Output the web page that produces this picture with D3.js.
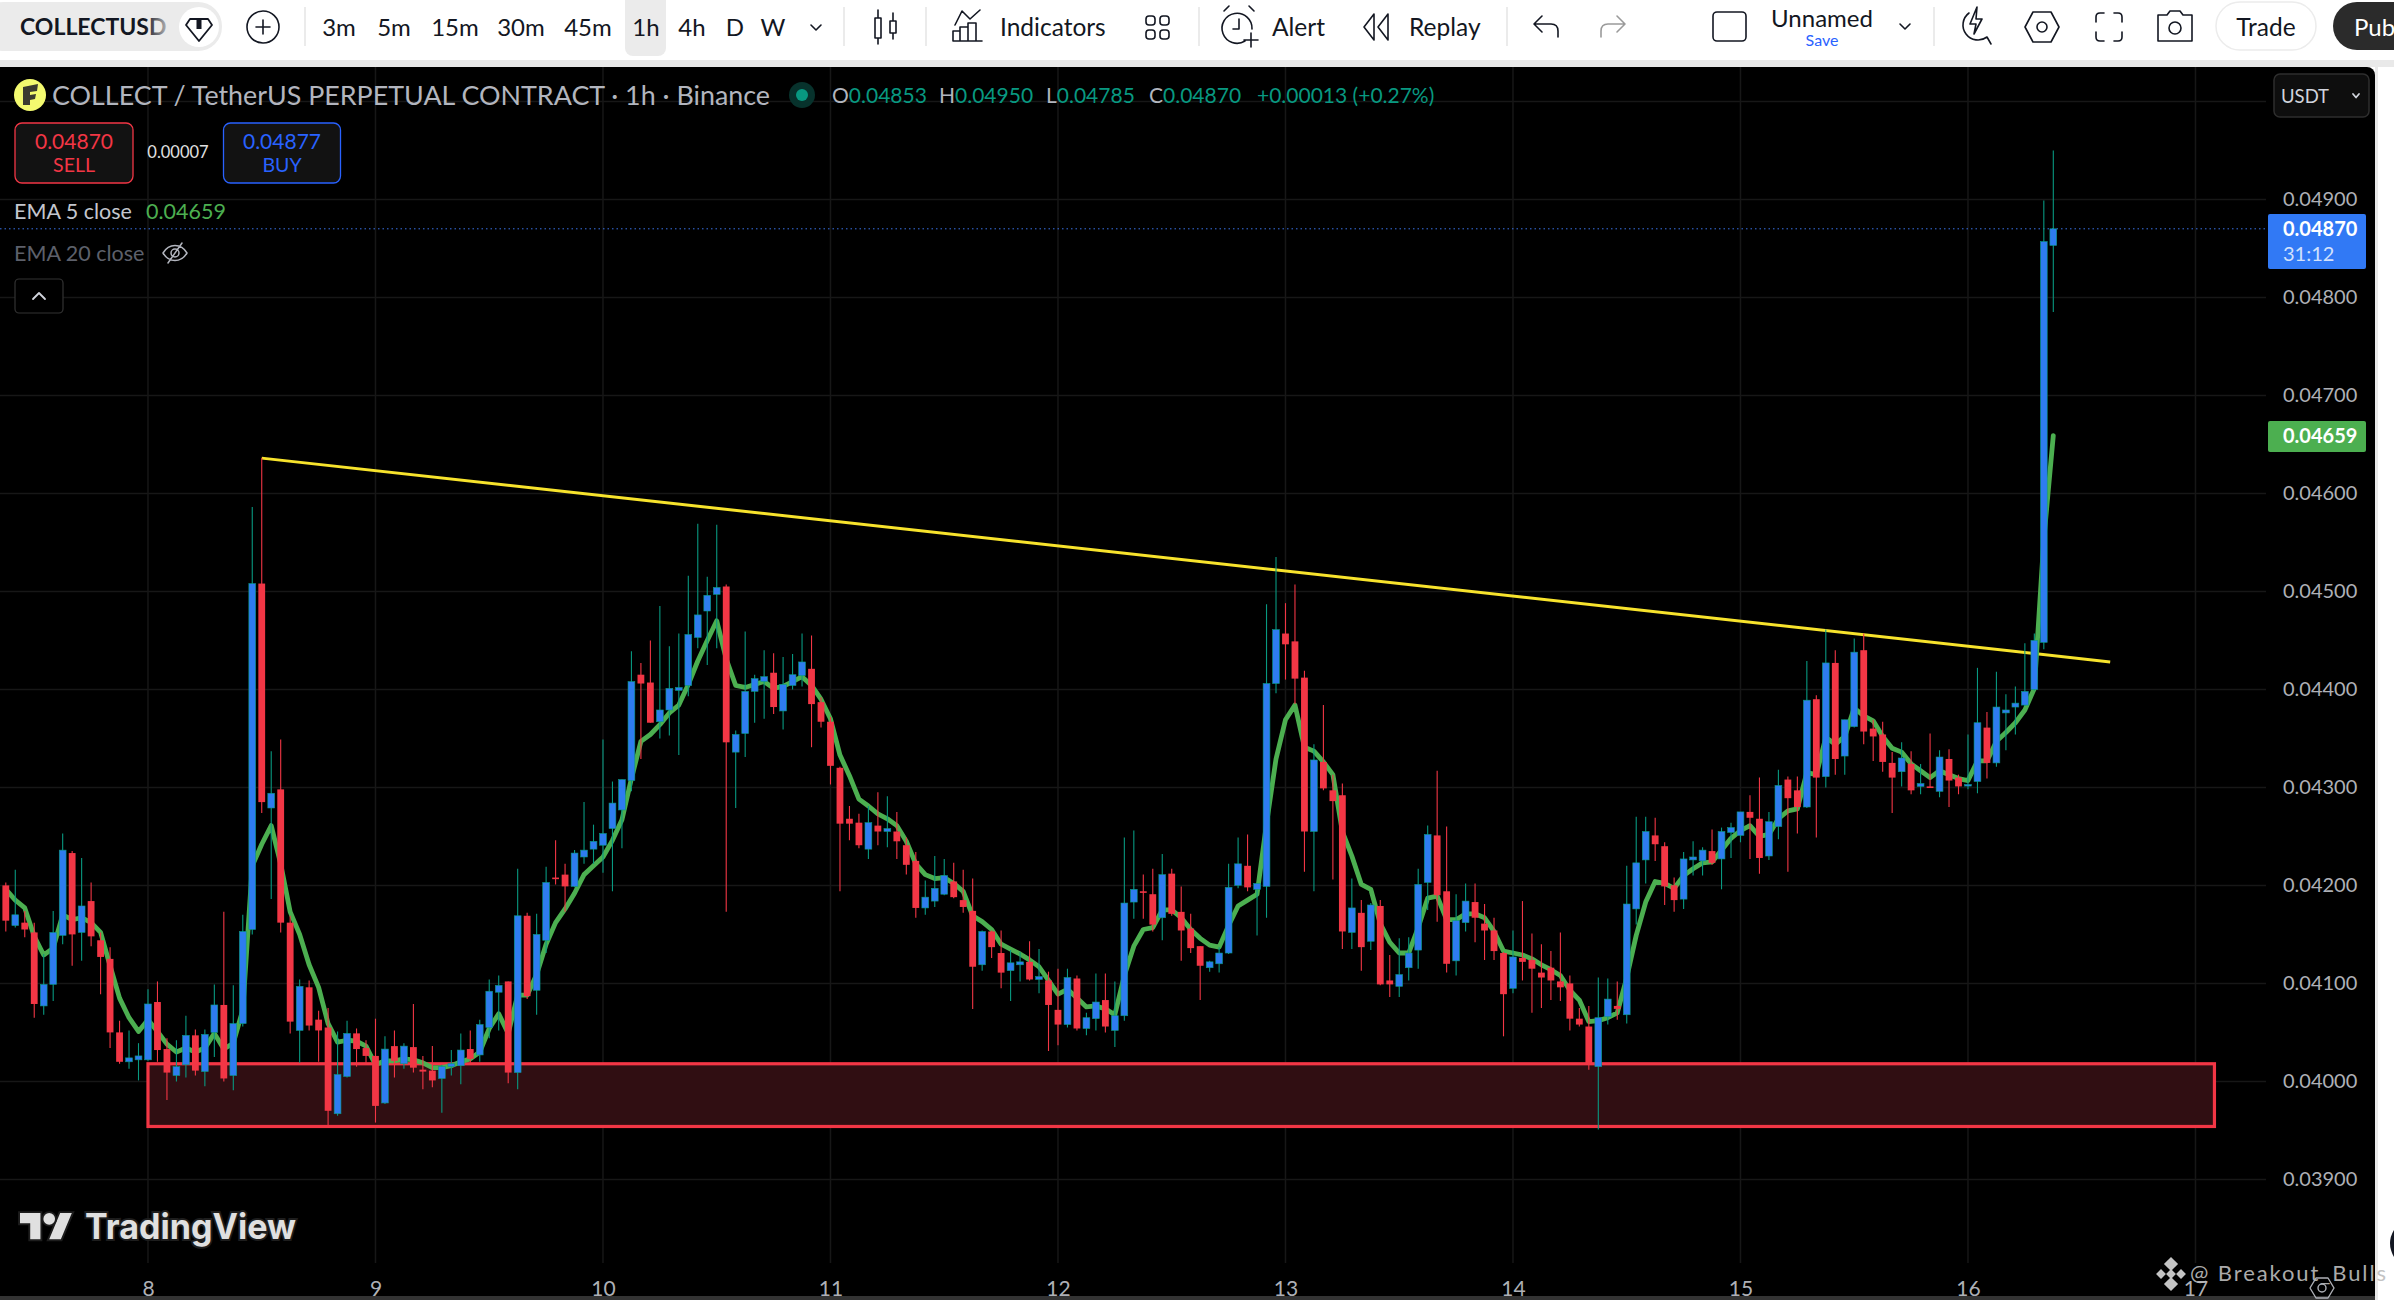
<!DOCTYPE html>
<html>
<head>
<meta charset="utf-8">
<title>COLLECTUSD</title>
<script src="https://cdn.jsdelivr.net/npm/d3@7"></script>
<style>
    html, body { margin: 0; padding: 0; background: #fff; overflow: hidden; }
    text { font-family: Lato, "Open Sans", sans-serif; }
</style>
</head>
<body>
<div id="chart"></div>
<script>
// prices are in units of 0.00001, one value per hourly bar
const opens = [
    4200,4159,4162,4152,4077,4099,4149,4233,4152,4184,4144,4125,4050,4020,4022,
    4022,4081,4033,4006,4017,4047,4010,4050,4078,4006,4059,4155,4508,4279,4298,4162,4052,4096,4063,4055,3967,4005,4049,4034,
    4026,3978,4036,4018,4035,4012,4011,4003,4015,4016,4033,4027,4055,4091,4102,4009,4169,4093,4144,4208,4211,4199,4229,4237,
    4241,4258,4277,4307,4415,4407,4367,4379,4399,4404,4453,4480,4497,4505,4336,4355,4398,4408,4417,4378,4404,4414,4421,4387,
    4367,4320,4268,4264,4237,4261,4255,4255,4241,4225,4177,4184,4191,4204,4185,4174,4119,4153,4131,4113,4119,4122,4104,4103,
    4073,4058,4105,4054,4064,4083,4052,4067,4183,4194,4191,4167,4212,4173,4156,4138,4116,4120,4131,4200,4220,4196,4199,4406,
    4457,4449,4412,4255,4326,4297,4292,4152,4172,4143,4179,4103,4097,4116,4134,4203,4251,4194,4123,4162,4183,4161,4154,4131,
    4095,4126,4124,4111,4116,4102,4100,4064,4056,4015,4066,4077,4068,4176,4226,4251,4240,4200,4186,4226,4225,4235,4227,4254,
    4251,4275,4268,4230,4260,4308,4297,4280,4390,4311,4427,4332,4362,4440,4360,4354,4325,4316,4324,4301,4301,4296,4329,4310,
    4302,4306,4361,4325,4376,4382,4384,4400,4448,4853
];
const highs = [
    4203,4216,4174,4162,4130,4174,4253,4235,4228,4203,4152,4137,4062,4052,4039,
    4094,4102,4044,4042,4067,4053,4053,4099,4173,4098,4170,4586,4636,4337,4349,4169,4104,4103,4072,4075,4051,4062,4054,4042,
    4064,4046,4052,4039,4079,4026,4036,4017,4032,4049,4052,4063,4104,4108,4102,4217,4172,4171,4219,4246,4222,4236,4285,4262,
    4349,4306,4308,4439,4427,4450,4485,4444,4457,4516,4569,4515,4568,4507,4358,4459,4415,4440,4437,4433,4436,4457,4455,4392,
    4372,4321,4281,4273,4281,4295,4291,4275,4249,4234,4205,4230,4227,4223,4216,4207,4154,4154,4154,4134,4132,4143,4135,4112,
    4115,4115,4108,4070,4110,4110,4102,4249,4256,4211,4217,4232,4217,4199,4171,4138,4123,4137,4222,4249,4252,4202,4487,4535,
    4488,4507,4419,4344,4384,4313,4304,4207,4185,4182,4185,4129,4146,4147,4217,4261,4317,4260,4191,4202,4202,4181,4167,4132,
    4154,4184,4151,4140,4133,4152,4108,4075,4077,4106,4105,4102,4220,4270,4270,4269,4244,4208,4234,4245,4239,4257,4259,4264,
    4275,4292,4310,4275,4318,4311,4311,4429,4394,4461,4440,4369,4452,4457,4369,4367,4336,4346,4337,4324,4355,4338,4339,4313,
    4354,4422,4377,4418,4395,4403,4447,4457,4899,4950
];
const lows = [
    4153,4157,4147,4065,4068,4082,4140,4118,4123,4138,4089,4034,4018,4013,4001,
    4021,4020,3981,4000,4004,4006,3995,4025,4000,3991,4056,4150,4274,4186,4152,4049,4019,4052,4020,3955,3965,4004,4015,4019,
    3958,3977,4004,4013,4009,3992,3994,3968,4006,3997,4019,4020,4044,4052,3998,3992,4084,4068,4131,4201,4173,4198,4222,4222,
    4213,4194,4238,4296,4329,4366,4350,4353,4333,4393,4442,4425,4442,4173,4279,4331,4366,4370,4375,4359,4400,4403,4341,4361,
    4303,4194,4246,4238,4227,4241,4239,4227,4211,4167,4170,4178,4190,4187,4172,4074,4113,4126,4095,4082,4102,4103,4090,4031,
    4037,4055,4052,4047,4052,4050,4035,4062,4166,4166,4153,4144,4169,4123,4131,4083,4112,4111,4130,4197,4194,4149,4167,4396,
    4410,4385,4214,4194,4297,4206,4135,4135,4113,4134,4098,4086,4086,4103,4115,4175,4163,4111,4108,4153,4142,4124,4124,4046,
    4090,4103,4070,4075,4083,4082,4052,4056,4012,3951,4058,4063,4059,4160,4202,4225,4180,4173,4176,4210,4210,4221,4196,4228,
    4244,4227,4212,4226,4247,4214,4253,4279,4249,4300,4313,4313,4361,4344,4327,4316,4274,4301,4293,4293,4300,4290,4280,4293,
    4298,4294,4309,4321,4338,4354,4383,4399,4441,4785
];
const closes = [
    4164,4170,4155,4079,4099,4152,4236,4150,4179,4148,4127,4050,4020,4024,4026,
    4079,4032,4009,4015,4047,4011,4048,4078,4003,4059,4153,4508,4285,4294,4162,4061,4097,4057,4052,3970,4007,4049,4033,4026,
    3975,4033,4021,4036,4014,4010,4001,4015,4018,4032,4023,4058,4092,4098,4009,4169,4087,4150,4203,4207,4199,4233,4236,4245,
    4253,4284,4308,4408,4406,4366,4379,4401,4402,4456,4476,4496,4504,4346,4354,4398,4411,4413,4382,4405,4415,4428,4385,4367,
    4322,4263,4263,4241,4264,4255,4258,4245,4221,4177,4188,4197,4210,4188,4178,4117,4153,4137,4111,4121,4122,4104,4107,4078,
    4058,4106,4054,4065,4081,4056,4067,4182,4196,4193,4160,4211,4171,4154,4136,4118,4122,4131,4198,4222,4198,4202,4406,4461,
    4446,4411,4255,4328,4299,4286,4153,4177,4137,4180,4099,4099,4109,4131,4201,4252,4190,4120,4164,4184,4167,4154,4133,4089,
    4127,4122,4115,4106,4103,4096,4064,4058,4017,4065,4084,4074,4181,4223,4255,4242,4199,4185,4227,4229,4236,4223,4255,4259,
    4275,4269,4228,4265,4302,4289,4280,4389,4310,4427,4329,4369,4438,4357,4352,4326,4310,4330,4297,4304,4300,4331,4307,4301,
    4303,4366,4325,4382,4379,4386,4398,4450,4857,4870
];
const ema5 = [
    4196,4185,4177,4148,4129,4136,4170,4165,4167,4162,4152,4118,4085,4065,4051,
    4063,4051,4038,4030,4034,4030,4034,4049,4033,4039,4073,4220,4242,4261,4222,4173,4150,4119,4096,4059,4040,4042,4041,4036,
    4017,4021,4021,4023,4022,4019,4014,4014,4016,4020,4023,4030,4054,4069,4049,4088,4088,4109,4140,4162,4176,4192,4211,4220,
    4229,4246,4267,4309,4347,4354,4364,4376,4384,4405,4429,4450,4470,4431,4404,4402,4405,4408,4401,4403,4408,4413,4404,4390,
    4370,4333,4312,4288,4281,4273,4268,4261,4245,4222,4211,4207,4208,4202,4194,4169,4163,4155,4140,4135,4130,4124,4117,4103,
    4089,4094,4085,4076,4077,4074,4068,4108,4138,4155,4157,4175,4175,4167,4155,4146,4139,4137,4159,4179,4185,4191,4263,4329,
    4369,4384,4341,4337,4326,4313,4255,4230,4201,4196,4161,4142,4131,4131,4157,4187,4189,4165,4165,4171,4171,4167,4153,4133,
    4131,4129,4125,4119,4114,4108,4093,4083,4061,4062,4065,4070,4106,4149,4183,4204,4202,4197,4210,4217,4223,4224,4236,4248,
    4256,4261,4250,4252,4268,4276,4278,4315,4313,4351,4344,4352,4381,4373,4368,4352,4340,4336,4324,4317,4310,4317,4313,4309,
    4307,4327,4327,4347,4356,4366,4379,4401,4553,4659
];

const priceTicks = [4900, 4800, 4700, 4600, 4500, 4400, 4300, 4200, 4100, 4000, 3900];
const gridPrices = [5000].concat(priceTicks);
const dayLabels = [8, 9, 10, 11, 12, 13, 14, 15, 16, 17];
const dayBars = [15, 39, 63, 87, 111, 135, 159, 183, 207, 231];   // bar index where each day starts

// drawings on the chart, [bar index, price]
const trendLine = [[27, 4636], [222, 4428]];
const supportZone = { from: 15, to: 233, top: 4018, bottom: 3954 };
const lastPrice = 4870;
const lastEma = 4659;

const timeframes = [['3m', 339], ['5m', 394], ['15m', 455], ['30m', 521], ['45m', 588], ['1h', 646], ['4h', 692], ['D', 735], ['W', 773]];
const ohlcParts = [['O', '0.04853', 832], ['H', '0.04950', 939], ['L', '0.04785', 1046], ['C', '0.04870', 1149]];

////////////////////////////////////////////////////////
////////////////////////////////////////////////////////
const width = 2394;
const height = 1300;
const upColor = '#2e7cf0';
const upWick = '#089981';
const downColor = '#f23645';
const axisText = '#aeb0b6';

const svg = d3.select('#chart').append('svg')
    .attr('width', width)
    .attr('height', height)
    .style('display', 'block');

// hourly bars are 9.479px apart, price scale is 98px per 0.001
const x = d3.scaleLinear().domain([0, 216]).range([5.8, 2053.3]);
const y = d3.scaleLinear().domain([3900, 4900]).range([1179.4, 199.4]);

function label(parent, px, py, str, size, fill, anchor, weight) {
    return parent.append('text')
        .attr('x', px)
        .attr('y', py)
        .attr('dy', '0.36em')
        .attr('font-size', size)
        .attr('fill', fill)
        .attr('text-anchor', anchor || 'start')
        .attr('font-weight', weight || 400)
        .text(str);
}

function icon(px, py, d, stroke, sw) {
    return svg.append('path')
        .attr('transform', 'translate(' + px + ',' + py + ')')
        .attr('d', d)
        .attr('fill', 'none')
        .attr('stroke', stroke || '#131722')
        .attr('stroke-width', sw || 1.6)
        .attr('stroke-linecap', 'round')
        .attr('stroke-linejoin', 'round');
}

////////////////////////////////////////////////////////
// page and panel
////////////////////////////////////////////////////////
svg.append('rect').attr('width', width).attr('height', height).attr('fill', '#fff');
svg.append('rect').attr('y', 60).attr('width', width).attr('height', 7).attr('fill', '#e9e9e9');
svg.append('rect').attr('x', 2375).attr('y', 60).attr('width', 3).attr('height', 1240).attr('fill', '#e9e9e9');
svg.append('rect').attr('x', -8).attr('y', 67).attr('width', 2383).attr('height', 1240).attr('rx', 8).attr('fill', '#000');
svg.append('rect').attr('y', 1296).attr('width', 2375).attr('height', 4).attr('fill', '#333');
svg.append('path').attr('d', 'M2394 1230 Q2386 1243 2394 1257 Z').attr('fill', '#131722');

////////////////////////////////////////////////////////
// grid
////////////////////////////////////////////////////////
const plot = svg.append('g');

plot.append('g').selectAll('line')
    .data(gridPrices)
    .join('line')
    .attr('x1', 0)
    .attr('x2', 2266)
    .attr('y1', d => y(d))
    .attr('y2', d => y(d))
    .attr('stroke', '#171717')
    .attr('stroke-width', 1.5);

plot.append('g').selectAll('line')
    .data(dayBars)
    .join('line')
    .attr('x1', d => x(d))
    .attr('x2', d => x(d))
    .attr('y1', 67)
    .attr('y2', 1263)
    .attr('stroke', '#171717')
    .attr('stroke-width', 1.5);

////////////////////////////////////////////////////////
// support zone, trend line, ema
////////////////////////////////////////////////////////
plot.append('rect')
    .attr('x', x(supportZone.from))
    .attr('y', y(supportZone.top))
    .attr('width', x(supportZone.to) - x(supportZone.from))
    .attr('height', y(supportZone.bottom) - y(supportZone.top))
    .attr('fill', '#300e12')
    .attr('stroke', downColor)
    .attr('stroke-width', 3.2);

plot.append('path')
    .datum(trendLine)
    .attr('d', d3.line().x(d => x(d[0])).y(d => y(d[1])))
    .attr('fill', 'none')
    .attr('stroke', '#f7e32c')
    .attr('stroke-width', 3);

plot.append('path')
    .datum(ema5)
    .attr('d', d3.line().x((d, i) => x(i)).y(d => y(d)))
    .attr('fill', 'none')
    .attr('stroke', '#4caf50')
    .attr('stroke-width', 4.8)
    .attr('stroke-linejoin', 'round')
    .attr('stroke-linecap', 'round');

// last price dotted line
plot.append('line')
    .attr('x1', 0)
    .attr('x2', 2266)
    .attr('y1', y(lastPrice))
    .attr('y2', y(lastPrice))
    .attr('stroke', '#3a72e8')
    .attr('stroke-width', 1)
    .attr('stroke-dasharray', '1.5 3');

////////////////////////////////////////////////////////
// candles
////////////////////////////////////////////////////////
const bars = plot.append('g').selectAll('g')
    .data(d3.range(opens.length))
    .join('g');

bars.append('line')
    .attr('x1', i => x(i))
    .attr('x2', i => x(i))
    .attr('y1', i => y(highs[i]))
    .attr('y2', i => y(lows[i]))
    .attr('stroke', i => closes[i] >= opens[i] ? upWick : downColor)
    .attr('stroke-width', 1.1);

bars.append('rect')
    .attr('x', i => x(i) - 3.4)
    .attr('width', 6.8)
    .attr('y', i => y(Math.max(opens[i], closes[i])))
    .attr('height', i => Math.max(1.6, Math.abs(y(opens[i]) - y(closes[i]))))
    .attr('fill', i => closes[i] >= opens[i] ? upColor : downColor)
    .attr('stroke', i => closes[i] >= opens[i] ? upWick : 'none')
    .attr('stroke-width', 0.6);

////////////////////////////////////////////////////////
// axes
////////////////////////////////////////////////////////
const yAxis = svg.append('g')
    .attr('transform', 'translate(2283,0)')
    .call(d3.axisRight(y)
        .tickValues(priceTicks)
        .tickSize(0)
        .tickPadding(0)
        .tickFormat(d => (d / 100000).toFixed(5)));
yAxis.select('.domain').remove();
yAxis.selectAll('text')
    .attr('fill', axisText)
    .attr('font-size', 20)
    .style('font-family', 'Lato');

const xAxis = svg.append('g')
    .attr('transform', 'translate(0,1281)')
    .call(d3.axisBottom(x)
        .tickValues(dayBars)
        .tickSize(0)
        .tickPadding(0)
        .tickFormat((d, i) => dayLabels[i]));
xAxis.select('.domain').remove();
xAxis.selectAll('text')
    .attr('fill', axisText)
    .attr('font-size', 21)
    .style('font-family', 'Lato');

// last price and ema tags
svg.append('rect').attr('x', 2268).attr('y', 214).attr('width', 98).attr('height', 55).attr('rx', 2).attr('fill', '#3179f5');
label(svg, 2283, 229, (lastPrice / 100000).toFixed(5), 20, '#fff', 'start', 700);
label(svg, 2283, 254, '31:12', 20, '#d3e1fc');
svg.append('rect').attr('x', 2268).attr('y', 421).attr('width', 98).attr('height', 31).attr('rx', 2).attr('fill', '#4caf50');
label(svg, 2283, 436, (lastEma / 100000).toFixed(5), 20, '#fff', 'start', 700);

// currency button
svg.append('rect').attr('x', 2274).attr('y', 74).attr('width', 95).attr('height', 43).attr('rx', 6).attr('fill', '#0e0e0e').attr('stroke', '#2e2e2e').attr('stroke-width', 1.5);
label(svg, 2281, 96, 'USDT', 18.5, '#d1d4dc');
icon(2356, 96, 'M-3 -2 L0 1.5 L3 -2', '#d1d4dc', 1.8);

////////////////////////////////////////////////////////
// legend
////////////////////////////////////////////////////////
svg.append('circle').attr('cx', 30).attr('cy', 95).attr('r', 16).attr('fill', '#f3fa6f');
svg.append('path').attr('d', 'M23 87 L38 84 L37 91 L30 92 L30 95 L36 94 L35 99 L30 100 L30 105 L23 105 Z').attr('fill', '#3b3b30');
label(svg, 52, 95, 'COLLECT / TetherUS PERPETUAL CONTRACT · 1h · Binance', 27.5, '#b2b5be')
    .attr('textLength', 718)
    .attr('lengthAdjust', 'spacingAndGlyphs');

svg.append('circle').attr('cx', 802).attr('cy', 95).attr('r', 13).attr('fill', '#07322c');
svg.append('circle').attr('cx', 802).attr('cy', 95).attr('r', 6).attr('fill', '#089981');

ohlcParts.forEach(p => {
    const t = svg.append('text').attr('x', p[2]).attr('y', 95).attr('dy', '0.36em').attr('font-size', 21);
    t.append('tspan').attr('fill', '#b2b5be').text(p[0]);
    t.append('tspan').attr('fill', '#089981').text(p[1]);
});
label(svg, 1257, 95, '+0.00013 (+0.27%)', 21, '#089981');

svg.append('rect').attr('x', 15).attr('y', 123).attr('width', 118).attr('height', 60).attr('rx', 7).attr('fill', '#121212').attr('stroke', downColor).attr('stroke-width', 1.3);
label(svg, 74, 141, '0.04870', 21, downColor, 'middle');
label(svg, 74, 165, 'SELL', 19.5, downColor, 'middle');
label(svg, 178, 152, '0.00007', 16.5, '#e0e0e0', 'middle');
svg.append('rect').attr('x', 223.5).attr('y', 123).attr('width', 117).attr('height', 60).attr('rx', 7).attr('fill', '#121212').attr('stroke', '#2962ff').attr('stroke-width', 1.3);
label(svg, 282, 141, '0.04877', 21, '#2962ff', 'middle');
label(svg, 282, 165, 'BUY', 19.5, '#2962ff', 'middle');

label(svg, 14, 211, 'EMA 5 close', 21.5, '#c3c6ce');
label(svg, 146, 211, '0.04659', 21.5, '#4caf50');
label(svg, 14, 253, 'EMA 20 close', 21.5, '#5d606b');
// crossed eye
icon(175, 253, 'M-12 0 C-6 -10 6 -10 12 0 C6 10 -6 10 -12 0 Z M-4 0 A4 4 0 1 0 4 0 A4 4 0 1 0 -4 0 M7 -10 L-7 10', '#b2b5be', 1.5);

svg.append('rect').attr('x', 15).attr('y', 279).attr('width', 48).attr('height', 34).attr('rx', 4).attr('fill', '#000').attr('stroke', '#333').attr('stroke-width', 1.2);
icon(39, 296, 'M-6 3 L0 -3 L6 3', '#d1d4dc', 1.8);

////////////////////////////////////////////////////////
// watermarks
////////////////////////////////////////////////////////
const tv = svg.append('g')
    .attr('transform', 'translate(20,1207.2) scale(1.46)')
    .attr('fill', '#e0e0e0')
    .attr('stroke', '#1d1d1d')
    .attr('stroke-width', 2.6)
    .style('paint-order', 'stroke');
tv.append('path').attr('d', 'M14 22H7V11H0V4h14v18zM28 22h-8l7.5-18h8L28 22z');
tv.append('circle').attr('cx', 20).attr('cy', 8).attr('r', 4);
label(svg, 85, 1226, 'TradingView', 35, '#e0e0e0', 'start', 700)
    .attr('textLength', 211)
    .attr('lengthAdjust', 'spacingAndGlyphs')
    .attr('stroke', '#1d1d1d')
    .attr('stroke-width', 4)
    .style('paint-order', 'stroke')
    .style('font-family', 'Inter');

const binance = svg.append('g').attr('fill', '#c4c4c4');
[[2171, 1264, 5], [2171, 1284, 5], [2161, 1274, 3.5], [2181, 1274, 3.5], [2171, 1274, 3.5]].forEach(p => {
    binance.append('rect').attr('x', p[0] - p[2]).attr('y', p[1] - p[2]).attr('width', p[2] * 2).attr('height', p[2] * 2)
        .attr('transform', 'rotate(45 ' + p[0] + ' ' + p[1] + ')');
});
label(svg, 2190, 1273, '@ Breakout_Bulls', 22, '#bdbdbd')
    .attr('textLength', 196)
    .attr('opacity', 0.9);
icon(2322, 1288, 'M-12 0 L-6 -10 L6 -10 L12 0 L6 10 L-6 10 Z M-4 0 A4 4 0 1 0 4 0 A4 4 0 1 0 -4 0', '#aeb0b6', 1.4);

////////////////////////////////////////////////////////
// top toolbar
////////////////////////////////////////////////////////
svg.append('rect').attr('x', -20).attr('y', 2).attr('width', 242).attr('height', 49).attr('rx', 24).attr('fill', '#ebebeb');
label(svg, 20, 27, 'COLLECTUSD', 23, '#131722', 'start', 700);
const defs = svg.append('defs');
const fade = defs.append('linearGradient').attr('id', 'pillFade');
fade.append('stop').attr('offset', 0).attr('stop-color', '#ebebeb').attr('stop-opacity', 0);
fade.append('stop').attr('offset', 1).attr('stop-color', '#ebebeb').attr('stop-opacity', 1);
svg.append('rect').attr('x', 145).attr('y', 8).attr('width', 30).attr('height', 38).attr('fill', 'url(#pillFade)');
svg.append('circle').attr('cx', 199).attr('cy', 27).attr('r', 20).attr('fill', '#fff');
icon(199, 27, 'M-9 -8 L9 -8 L13 -2 L0 14 L-13 -2 Z', '#131722', 1.8);
svg.append('rect').attr('x', 196.5).attr('y', 19).attr('width', 5).attr('height', 10).attr('fill', '#131722');

svg.append('circle').attr('cx', 263).attr('cy', 27).attr('r', 16).attr('fill', 'none').attr('stroke', '#131722').attr('stroke-width', 1.6);
icon(263, 27, 'M-7 0 L7 0 M0 -7 L0 7');

[305, 844, 926, 1199, 1507, 1934].forEach(sx => {
    svg.append('line').attr('x1', sx).attr('x2', sx).attr('y1', 7).attr('y2', 46).attr('stroke', '#e4e4e4').attr('stroke-width', 1.5);
});

svg.append('rect').attr('x', 625).attr('y', -8).attr('width', 41).attr('height', 64).attr('rx', 8).attr('fill', '#ebebeb');
timeframes.forEach(t => label(svg, t[1], 27, t[0], 24, '#131722', 'middle'));
icon(816, 27, 'M-5 -2 L0 3 L5 -2');

// candle type icon
icon(878, 27, 'M-3 -9 H3 V11 H-3 Z M0 -9 V-17 M0 11 V17 M12 -6 H18 V6 H12 Z M15 -6 V-14 M15 6 V12');
// indicators
icon(968, 27, 'M-13 -2 L-6 -16 L2 -8 L12 -17 M-15 14 V4 H-8 V14 M-8 14 V0 H0 V14 M0 14 V-4 H8 V14 M-15 14 H14');
label(svg, 1000, 27, 'Indicators', 24.5, '#131722');
// layouts
[[-11, -11], [3, -11], [-11, 3], [3, 3]].forEach(p => {
    svg.append('rect').attr('x', 1157 + p[0]).attr('y', 27 + p[1]).attr('width', 9).attr('height', 9).attr('rx', 3).attr('fill', 'none').attr('stroke', '#131722').attr('stroke-width', 1.6);
});
// alert clock
icon(1239, 27, 'M6 14 A15 15 0 1 1 13 2 M0 -8 V2 H-6 M-15 -16 L-10 -21 M15 -16 L10 -21 M12 6 V20 M5 13 H19');
label(svg, 1272, 27, 'Alert', 24.5, '#131722');
// replay arrows
icon(1376, 27, 'M-2 -13 L-12 0 L-2 13 Z M12 -13 L2 0 L12 13 Z');
label(svg, 1409, 27, 'Replay', 24.5, '#131722');
// undo, redo
icon(1546, 27, 'M12 10 V4 Q12 -3 5 -3 H-11 M-4 -11 L-12 -3 L-4 5');
icon(1613, 27, 'M-12 10 V4 Q-12 -3 -5 -3 H11 M4 -11 L12 -3 L4 5', '#9a9a9a');

svg.append('rect').attr('x', 1713).attr('y', 12).attr('width', 33).attr('height', 29).attr('rx', 4).attr('fill', 'none').attr('stroke', '#131722').attr('stroke-width', 1.6);
label(svg, 1822, 18, 'Unnamed', 24, '#131722', 'middle');
label(svg, 1822, 40, 'Save', 16, '#2962ff', 'middle');
icon(1905, 26, 'M-5 -2 L0 3 L5 -2');

// quick search
icon(1975, 27, 'M-6 -14 A15 15 0 1 0 12 10 M12 10 L16 17 M2 -20 L-5 -3 L1 -3 L-1 7 L7 -8 L1 -8 Z');
// settings hexagon
icon(2042, 27, 'M-17 0 L-9 -15 L9 -15 L17 0 L9 15 L-9 15 Z M-5 0 A5 5 0 1 0 5 0 A5 5 0 1 0 -5 0');
// fullscreen
icon(2109, 27, 'M-13 -5 V-10 Q-13 -14 -9 -14 H-5 M5 -14 H9 Q13 -14 13 -10 V-5 M13 5 V10 Q13 14 9 14 H5 M-5 14 H-9 Q-13 14 -13 10 V5');
// camera
icon(2175, 27, 'M-17 -12 H-8 L-5 -16 H5 L8 -12 H17 V14 H-17 Z M-6 1 A6 6 0 1 0 6 1 A6 6 0 1 0 -6 1');

svg.append('rect').attr('x', 2216).attr('y', 2).attr('width', 100).attr('height', 48).attr('rx', 24).attr('fill', '#fff').attr('stroke', '#ececec').attr('stroke-width', 1.5);
label(svg, 2266, 27, 'Trade', 24.5, '#131722', 'middle');
svg.append('rect').attr('x', 2333).attr('y', 2).attr('width', 100).attr('height', 48).attr('rx', 24).attr('fill', '#2b2b2b');
label(svg, 2354, 27, 'Pub', 24, '#fff');
</script>
</body>
</html>
